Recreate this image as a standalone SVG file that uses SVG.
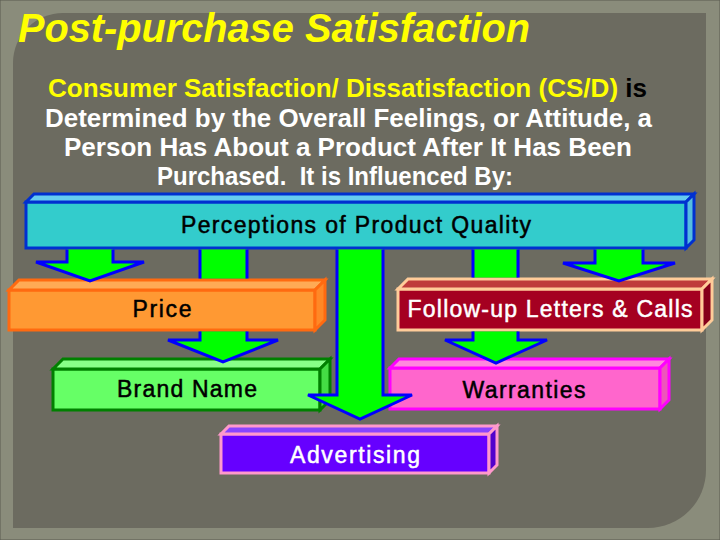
<svg xmlns="http://www.w3.org/2000/svg" width="720" height="540" viewBox="0 0 720 540">
<style>
.t{font-family:"Liberation Sans",Arial,sans-serif;font-weight:bold}
.box polygon,.box rect{stroke-width:3;stroke-linejoin:miter}
.lbl{font-family:"Liberation Sans",Arial,sans-serif;font-weight:normal;font-size:23px;text-anchor:middle;stroke-width:0.5;paint-order:stroke}
.arr{fill:#00ff00;stroke:#0000ff;stroke-width:3;stroke-linejoin:miter}
.shaft{fill:none;stroke:#0000ff;stroke-width:3}
</style>
<rect x="0" y="0" width="720" height="540" fill="#8a8c7b" stroke="#5a5b50" stroke-width="1"/>
<path d="M13,63 A50,50 0 0 1 63,13 H706 V470 A58,58 0 0 1 648,528 H13 Z" fill="#6c6b60"/>
<text class="t" x="18" y="42" font-size="40" font-style="italic" fill="#ffff00" textLength="512" lengthAdjust="spacingAndGlyphs">Post-purchase Satisfaction</text>
<g id="subtitle" class="t" font-size="25">
<text x="48" y="97" textLength="599" lengthAdjust="spacingAndGlyphs"><tspan fill="#ffff00">Consumer Satisfaction/ Dissatisfaction (CS/D)</tspan><tspan fill="#000000"> is</tspan></text>
<text x="45" y="127" fill="#ffffff" textLength="607" lengthAdjust="spacingAndGlyphs">Determined by the Overall Feelings, or Attitude, a</text>
<text x="64" y="156" fill="#ffffff" textLength="568" lengthAdjust="spacingAndGlyphs">Person Has About a Product After It Has Been</text>
<text x="157" y="185" fill="#ffffff" textLength="356" lengthAdjust="spacingAndGlyphs" style="white-space:pre">Purchased.  It is Influenced By:</text>
</g>
<g id="perceptions" class="box">
<rect x="26" y="202" width="660" height="46" fill="#33cccc" stroke="#0030d0"/>
<polygon points="26,202 34,194 694,194 686,202" fill="#66ccf0" stroke="#0030d0"/>
<polygon points="686,202 694,194 694,240 686,248" fill="#55bde0" stroke="#0030d0"/>
<text class="lbl" x="356" y="233" fill="#000" stroke="#000" textLength="350">Perceptions of Product Quality</text>
</g>
<g id="price" class="box">
<rect x="9" y="290" width="306" height="40" fill="#ff9933" stroke="#ff6a10"/>
<polygon points="9,290 19,280 325,280 315,290" fill="#ffaa55" stroke="#ff6a10"/>
<polygon points="315,290 325,280 325,320 315,330" fill="#ff8826" stroke="#ff6a10"/>
<text class="lbl" x="162" y="317" fill="#000" stroke="#000" textLength="59">Price</text>
</g>
<g id="followup" class="box">
<rect x="398" y="289" width="304" height="41" fill="#a50021" stroke="#ffcc99"/>
<polygon points="398,289 408,279 712,279 702,289" fill="#bf3b3b" stroke="#ffcc99"/>
<polygon points="702,289 712,279 712,320 702,330" fill="#85001a" stroke="#ffcc99"/>
<text class="lbl" x="550" y="317" fill="#ffffff" stroke="#ffffff" textLength="285">Follow-up Letters &amp; Calls</text>
</g>
<g id="brand" class="box">
<rect x="53" y="369" width="267" height="41" fill="#66ff66" stroke="#008000"/>
<polygon points="53,369 63,359 330,359 320,369" fill="#88ff88" stroke="#008000"/>
<polygon points="320,369 330,359 330,400 320,410" fill="#44dd44" stroke="#008000"/>
<text class="lbl" x="187" y="397" fill="#000" stroke="#000" textLength="140">Brand Name</text>
</g>
<g id="warranties" class="box">
<rect x="390" y="368" width="270" height="41" fill="#ff66cc" stroke="#ff00ff"/>
<polygon points="390,368 399,359 669,359 660,368" fill="#ff88dd" stroke="#ff00ff"/>
<polygon points="660,368 669,359 669,400 660,409" fill="#ee55bb" stroke="#ff00ff"/>
<text class="lbl" x="524" y="398" fill="#000" stroke="#000" textLength="123">Warranties</text>
</g>
<g id="advertising" class="box">
<rect x="221" y="434" width="268" height="39" fill="#6600ff" stroke="#ff99cc"/>
<polygon points="221,434 229,426 497,426 489,434" fill="#8844ff" stroke="#ff99cc"/>
<polygon points="489,434 497,426 497,465 489,473" fill="#5200cc" stroke="#ff99cc"/>
<text class="lbl" x="355" y="463" fill="#ffffff" stroke="#ffffff" textLength="130">Advertising</text>
</g>
<g id="connectors">
<path class="arr" d="M67,249.5 V262 H36 L90,281 L144,262 H113 V249.5"/>
<rect x="200" y="249.5" width="47" height="29" fill="#00ff00"/>
<path class="shaft" d="M200,249.5 V278.5 M247,249.5 V278.5"/>
<path class="arr" d="M200,331.5 V340 H168 L223,362 L278,340 H247 V331.5"/>
<path class="arr" d="M337,249.5 V395 H308 L360,419 L412,395 H383 V249.5"/>
<rect x="473" y="249.5" width="45" height="28" fill="#00ff00"/>
<path class="shaft" d="M473,249.5 V277.5 M518,249.5 V277.5"/>
<path class="arr" d="M473,331.5 V340 H445 L496,363 L547,340 H518 V331.5"/>
<path class="arr" d="M595,249.5 V263 H563 L619,281 L675,263 H643 V249.5"/>
</g>
</svg>
